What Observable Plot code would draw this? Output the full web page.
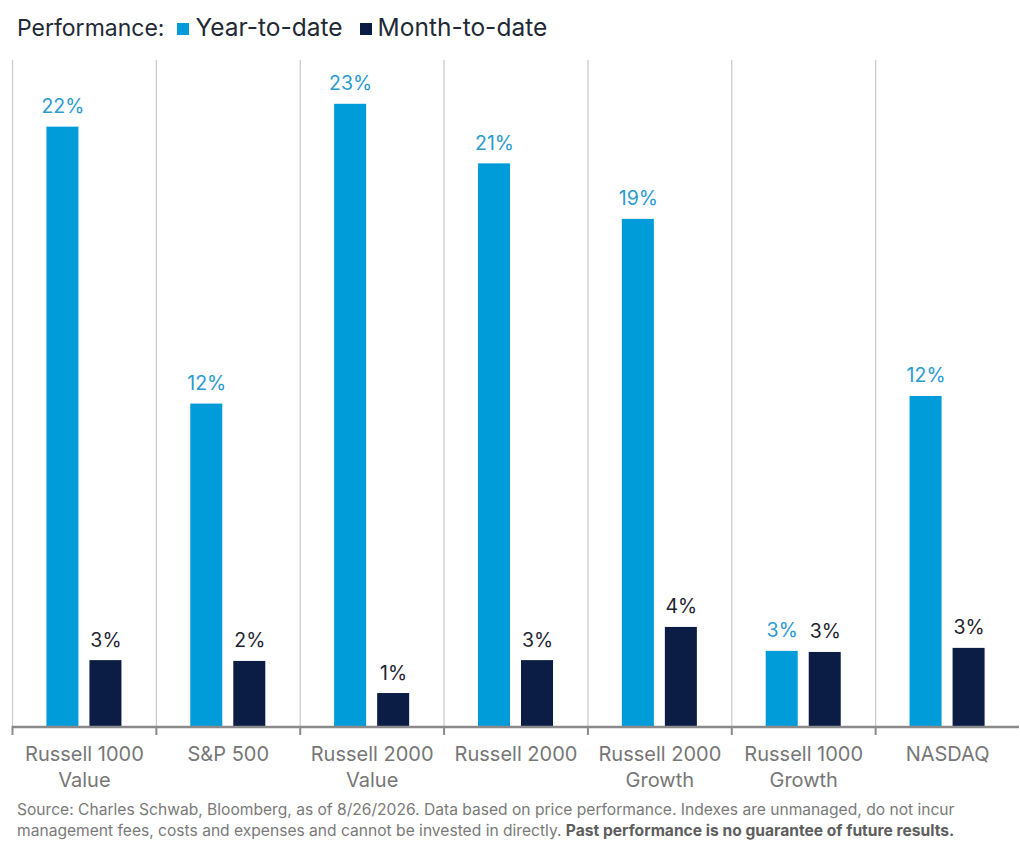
<!DOCTYPE html>
<html>
<head>
<meta charset="utf-8">
<script src="https://cdn.jsdelivr.net/npm/d3@7"></script>
<script src="https://cdn.jsdelivr.net/npm/@observablehq/plot@0.6"></script>
<style>
  body { margin: 0; background: #fff; font-family: Inter, Roboto, "Liberation Sans", sans-serif; }
  #wrap { width: 1020px; }
  #title { height: 50px; box-sizing: border-box; padding: 12px 0 0 17px; font-size: 23px; color: #1f2a36; white-space: nowrap; }
  #title .lg { font-size: 24.5px; }
  #title .sw { display: inline-block; width: 12px; height: 12px; margin: 0 6px 0 0; vertical-align: 1px; }
  #title .item { margin-left: 13px; }
  #title .item2 { margin-left: 17px; }
  #foot { padding: 0 0 0 17px; font-size: 15.6px; line-height: 21px; color: #7a7a7a; margin-top: 4px; white-space: nowrap; }
  #foot b { color: #5e5e5e; }
  svg { display: block; }
</style>
</head>
<body>
<div id="wrap">
  <div id="title"></div>
  <div id="chart"></div>
  <div id="foot"></div>
</div>
<script>
const categories = ["Russell 1000\nValue", "S&P 500", "Russell 2000\nValue", "Russell 2000", "Russell 2000\nGrowth", "Russell 1000\nGrowth", "NASDAQ"];
const series = ["Year-to-date", "Month-to-date"];
const ytdValues = [22.05, 11.87, 22.89, 20.7, 18.66, 2.78, 12.15];
const mtdValues = [2.44, 2.41, 1.23, 2.44, 3.66, 2.74, 2.89];
const ytdLabels = ["22%", "12%", "23%", "21%", "19%", "3%", "12%"];
const mtdLabels = ["3%", "2%", "1%", "3%", "4%", "3%", "3%"];
const colors = ["#009bd9", "#0b1d45"];
const labelColors = ["#2a9bcf", "#1f2530"];
const titleText = "Performance:";
const footLine1 = "Source: Charles Schwab, Bloomberg, as of 8/26/2026. Data based on price performance. Indexes are unmanaged, do not incur";
const footLine2a = "management fees, costs and expenses and cannot be invested in directly. ";
const footLine2b = "Past performance is no guarantee of future results.";

const rows = [];
categories.forEach((c, i) => {
  rows.push({category: c, series: series[0], value: ytdValues[i], label: ytdLabels[i]});
  rows.push({category: c, series: series[1], value: mtdValues[i], label: mtdLabels[i]});
});

const title = document.getElementById("title");
title.innerHTML = `<span>${titleText}</span>` +
  series.map((s, i) => `<span class="lg ${i === 0 ? "item" : "item2"}"><span class="sw" style="background:${colors[i]}"></span>${s}</span>`).join("");

const H = 745, MT = 10, MB = 68.5;
const facetH = H - MT - MB;

const chart = Plot.plot({
  width: 1020,
  height: H,
  marginTop: MT,
  marginBottom: MB,
  marginLeft: 12,
  marginRight: 1,
  style: {fontFamily: "Inter, Roboto, 'Liberation Sans', sans-serif", background: "#fff"},
  fx: {domain: categories, padding: 0, round: false, label: null},
  x: {domain: series, paddingInner: 0.256, paddingOuter: 0.8, round: false, axis: null},
  y: {domain: [0, 24.5], axis: null},
  color: {domain: series, range: colors},
  marks: [
    Plot.frame({anchor: "left", stroke: "#c9c9c9", strokeWidth: 1.2}),
    Plot.frame({anchor: "left", stroke: "#8a8a8a", strokeWidth: 2, insetTop: facetH, insetBottom: -7}),
    Plot.barY(rows, {fx: "category", x: "series", y: "value", fill: "series"}),
    Plot.ruleY([0], {stroke: "#8a8a8a", strokeWidth: 2.5}),
    Plot.text(rows, {
      fx: "category", x: "series", y: "value", text: "label",
      fill: d => d.series === series[0] ? labelColors[0] : labelColors[1],
      lineAnchor: "bottom", dy: -14, fontSize: 19.5
    }),
    Plot.axisFx({
      anchor: "bottom", tickSize: 0, tickPadding: 16, fontSize: 20,
      lineHeight: 1.3, fill: "#777", label: null
    })
  ]
});
document.getElementById("chart").appendChild(chart);

document.getElementById("foot").innerHTML = `${footLine1}<br>${footLine2a}<b>${footLine2b}</b>`;
</script>
</body>
</html>
